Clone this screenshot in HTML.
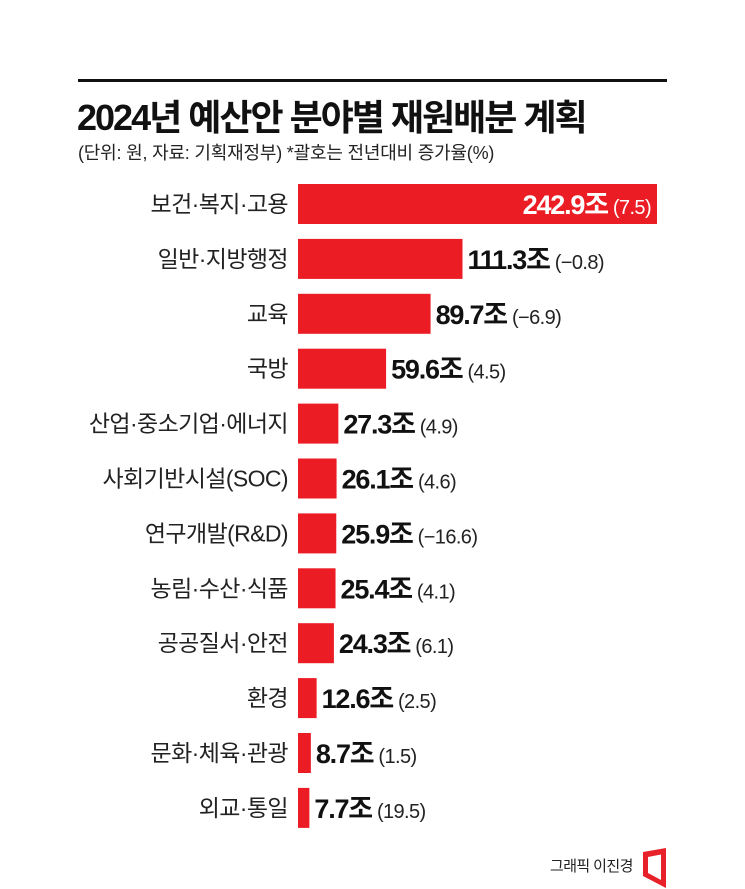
<!DOCTYPE html>
<html><head><meta charset="utf-8">
<style>
body{margin:0;background:#fff;}
#c{position:relative;width:745px;height:889px;overflow:hidden;background:#fff;font-family:"Liberation Sans","Noto Sans CJK KR",sans-serif;}
.t{position:absolute;white-space:nowrap;}
</style></head>
<body>
<div id="c">
<div class="t" style="left:78px;top:79px;width:589px;height:3px;background:#111;"></div>
<div class="t" style="left:77px;top:89px;font-size:36px;font-weight:bold;letter-spacing:-2px;color:#111;">2024년 예산안 분야별 재원배분 계획</div>
<div class="t" style="left:78px;top:139px;font-size:18px;letter-spacing:-0.2px;color:#222;">(단위: 원, 자료: 기획재정부) *괄호는 전년대비 증가율(%)</div>
<svg id="s" width="745" height="889" style="position:absolute;left:0;top:0"></svg>
<div class="t" style="left:550px;top:855px;font-size:15px;color:#222;letter-spacing:-0.6px;">그래픽 이진경</div>
<svg class="t" style="left:640px;top:848px" width="30" height="41"><path d="M3,4 L26,0 L26,40 L3,28 Z M8,9 L21,6.5 L21,32 L8,25 Z" fill="#e8202a" fill-rule="evenodd"/></svg>
</div>
<script>
const categories=["보건·복지·고용","일반·지방행정","교육","국방","산업·중소기업·에너지","사회기반시설(SOC)","연구개발(R&D)","농림·수산·식품","공공질서·안전","환경","문화·체육·관광","외교·통일"];
const values=[242.9,111.3,89.7,59.6,27.3,26.1,25.9,25.4,24.3,12.6,8.7,7.7];
const changes=["7.5","−0.8","−6.9","4.5","4.9","4.6","−16.6","4.1","6.1","2.5","1.5","19.5"];
const x0=298,x1=657,vmax=242.9,rowTop=204,rowStep=54.9,barH=40;
const xs=v=>x0+(x1-x0)*v/vmax;
const ys=i=>rowTop+i*rowStep;
const svg=document.getElementById('s');const NS="http://www.w3.org/2000/svg";
categories.forEach((c,i)=>{
 const y=ys(i);
 const r=document.createElementNS(NS,'rect');
 
 
 r.setAttribute('x',x0);r.setAttribute('y',y-barH/2);r.setAttribute('width',xs(values[i])-x0);r.setAttribute('height',barH);r.setAttribute('fill','#ec1c24');
 svg.appendChild(r);
 const l=document.createElementNS(NS,'text');
 
 
 l.setAttribute('x',288);l.setAttribute('y',y+8);l.setAttribute('text-anchor','end');l.setAttribute('font-size','23');l.setAttribute('fill','#222');l.setAttribute('letter-spacing','-0.6');
 l.textContent=c;svg.appendChild(l);
 const inside=i===0;
 const t=document.createElementNS(NS,'text');
 
 
 t.setAttribute('y',y+10);t.setAttribute('fill',inside?'#fff':'#111');
 if(inside){t.setAttribute('x',xs(values[i])-6);t.setAttribute('text-anchor','end');}
 else{t.setAttribute('x',xs(values[i])+5);}
 const a=document.createElementNS(NS,'tspan');a.setAttribute('font-size','27');a.setAttribute('font-weight','bold');a.setAttribute('letter-spacing','-1.2');a.textContent=values[i]+'조';
 const b=document.createElementNS(NS,'tspan');b.setAttribute('font-size','20');b.setAttribute('dx','5');b.setAttribute('letter-spacing','-0.6');b.setAttribute('fill',inside?'#fff':'#222');b.textContent='('+changes[i]+')';
 t.appendChild(a);t.appendChild(b);svg.appendChild(t);
});
</script>
</body></html>
